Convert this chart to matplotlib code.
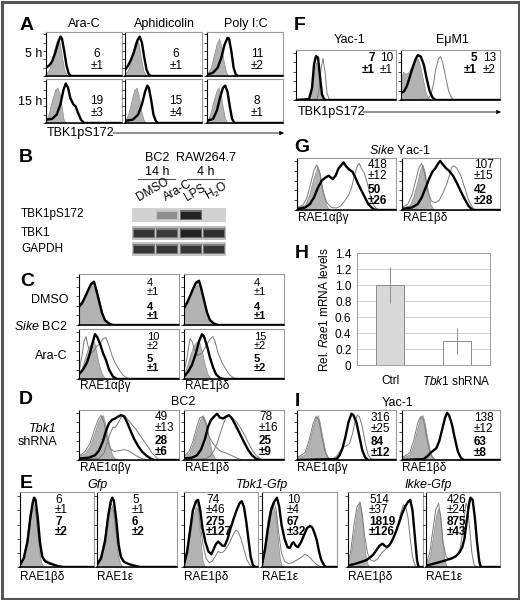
#!/usr/bin/env python3
"""Multi-panel figure: TBK1 activation (flow + blot) and RAE1 induction (flow + qPCR)."""

import matplotlib

matplotlib.use("Agg")
import matplotlib.pyplot as plt
import numpy as np
from matplotlib.patches import Rectangle

plt.rcParams["font.family"] = ["Liberation Sans", "DejaVu Sans"]
plt.rcParams["mathtext.fontset"] = "custom"
plt.rcParams["mathtext.rm"] = "Liberation Sans"
plt.rcParams["mathtext.it"] = "Liberation Sans:italic"
plt.rcParams["mathtext.bf"] = "Liberation Sans:bold"

W, H = 520, 600

# ---- flow histograms: (channel 0-100, % of max) ----
# A: TBK1pS172, rows 5 h / 15 h, cols Ara-C / Aphidicolin / Poly I:C
a5_arac_fill = [(0, 5), (4, 15), (8, 40), (12, 72), (15, 90), (18, 80), (21, 45), (24, 15), (27, 3), (30, 0)]
a5_arac_blk = [(0, 20), (4, 25), (8, 35), (12, 55), (16, 80), (19, 95), (21, 90), (24, 60), (27, 25), (30, 5), (33, 0)]
a5_aph_fill = [(0, 5), (4, 15), (8, 40), (12, 75), (15, 90), (18, 75), (21, 40), (24, 12), (27, 2), (30, 0)]
a5_aph_blk = [(0, 15), (4, 25), (8, 40), (12, 60), (16, 85), (19, 95), (22, 80), (25, 45), (28, 15), (31, 3), (34, 0)]
a5_poly_fill = [(0, 5), (5, 20), (9, 50), (13, 80), (16, 90), (19, 70), (22, 35), (25, 10), (28, 0)]
a5_poly_blk = [(0, 3), (8, 8), (14, 20), (19, 45), (23, 75), (27, 92), (29, 90), (32, 60), (35, 20), (38, 3), (41, 0)]
a15_arac_fill = [(0, 5), (4, 25), (8, 55), (12, 80), (15, 85), (18, 70), (21, 35), (23, 10), (25, 2), (28, 0)]
a15_arac_blk = [(0, 8), (8, 10), (14, 20), (19, 45), (23, 80), (26, 95), (29, 85), (32, 60), (36, 45), (39, 40), (42, 25), (46, 8), (50, 0)]
a15_aph_fill = [(0, 5), (4, 20), (8, 50), (12, 80), (15, 85), (18, 65), (21, 30), (24, 8), (27, 0)]
a15_aph_blk = [(0, 5), (10, 8), (17, 20), (22, 45), (26, 75), (29, 90), (31, 85), (34, 55), (37, 20), (40, 5), (43, 0)]
a15_poly_fill = [(0, 5), (4, 20), (8, 50), (12, 75), (15, 85), (18, 70), (21, 35), (24, 10), (27, 0)]
a15_poly_blk = [(0, 5), (8, 10), (13, 30), (17, 60), (21, 85), (24, 90), (27, 75), (30, 40), (33, 10), (36, 0)]

# C: Sike BC2, rows DMSO / Ara-C, cols RAE1abg / RAE1bd
c_dmso1_fill = [(0, 40), (3, 45), (6, 55), (9, 70), (12, 80), (15, 85), (18, 70), (21, 45), (24, 20), (27, 8), (30, 2), (34, 0)]
c_dmso1_thin = [(0, 42), (3, 48), (6, 58), (9, 72), (12, 82), (15, 88), (18, 72), (21, 45), (24, 20), (27, 8), (31, 2), (35, 0)]
c_dmso1_blk = [(0, 38), (3, 45), (6, 58), (9, 72), (12, 85), (15, 90), (17, 75), (20, 50), (23, 25), (26, 10), (30, 3), (34, 0)]
c_dmso2_fill = [(0, 35), (3, 45), (6, 58), (9, 72), (12, 82), (15, 85), (18, 68), (21, 42), (24, 18), (27, 6), (31, 0)]
c_dmso2_thin = [(0, 38), (3, 48), (6, 60), (9, 75), (12, 85), (15, 88), (18, 70), (21, 44), (24, 20), (27, 8), (32, 0)]
c_dmso2_blk = [(0, 35), (3, 46), (6, 60), (9, 75), (12, 88), (15, 92), (17, 78), (20, 52), (23, 26), (26, 10), (30, 3), (34, 0)]
c_arac1_fill = [(0, 10), (3, 25), (6, 45), (9, 65), (12, 75), (15, 80), (17, 60), (20, 30), (23, 10), (26, 2), (30, 0)]
c_arac1_thin = [(0, 15), (3, 50), (5, 80), (7, 90), (9, 70), (12, 55), (15, 60), (18, 70), (21, 75), (24, 85), (27, 88),
                (30, 70), (33, 50), (36, 35), (40, 20), (44, 8), (48, 2), (52, 0)]
c_arac1_blk = [(0, 10), (4, 20), (8, 35), (11, 55), (14, 80), (16, 95), (18, 90), (21, 75), (24, 55), (27, 40), (30, 20), (34, 5), (38, 0)]
c_arac2_fill = [(0, 10), (3, 28), (6, 50), (9, 68), (12, 78), (15, 80), (18, 58), (21, 28), (24, 8), (27, 2), (30, 0)]
c_arac2_thin = [(0, 15), (3, 45), (6, 85), (8, 80), (11, 60), (14, 50), (18, 55), (22, 70), (26, 85), (29, 90), (31, 80),
                (34, 55), (38, 35), (42, 20), (46, 8), (50, 2), (54, 0)]
c_arac2_blk = [(0, 5), (4, 15), (8, 30), (12, 55), (15, 80), (18, 95), (20, 90), (23, 70), (26, 45), (29, 25), (32, 10), (36, 2), (40, 0)]

# D: BC2 Tbk1 shRNA
d1_fill = [(0, 8), (6, 15), (11, 30), (15, 55), (19, 80), (22, 92), (24, 95), (27, 70), (30, 35), (33, 12), (36, 3), (40, 0)]
d1_iso = [(0, 8), (6, 18), (11, 35), (15, 62), (19, 85), (22, 95), (25, 80), (28, 45), (31, 25), (35, 18), (40, 20), (45, 22),
          (49, 20), (53, 15), (58, 8), (63, 3), (68, 0)]
d1_thin = [(0, 0), (20, 4), (25, 15), (28, 35), (31, 55), (34, 70), (36, 68), (39, 78), (42, 90), (44, 95), (46, 93), (49, 85),
           (53, 75), (57, 65), (61, 52), (65, 40), (69, 28), (73, 15), (77, 6), (80, 0)]
d1_blk = [(0, 3), (10, 5), (16, 10), (20, 20), (24, 40), (27, 62), (30, 78), (33, 85), (36, 88), (39, 92), (42, 95), (45, 93),
          (48, 80), (51, 65), (55, 45), (59, 30), (63, 18), (67, 10), (71, 4), (75, 0)]
d2_fill = [(0, 8), (5, 15), (9, 35), (13, 65), (16, 85), (19, 95), (22, 80), (25, 45), (28, 15), (31, 3), (34, 0)]
d2_iso = [(0, 8), (5, 18), (9, 40), (13, 72), (16, 90), (19, 92), (22, 75), (25, 50), (29, 35), (33, 25), (37, 18), (42, 15),
          (47, 10), (52, 5), (58, 0)]
d2_thin = [(0, 0), (22, 3), (26, 8), (30, 20), (33, 35), (36, 55), (39, 75), (42, 90), (44, 95), (46, 92), (49, 88), (52, 82),
           (56, 70), (60, 55), (64, 38), (68, 22), (72, 10), (76, 3), (80, 0)]
d2_blk = [(0, 3), (8, 5), (13, 10), (17, 22), (21, 45), (24, 70), (27, 85), (30, 92), (33, 98), (36, 90), (39, 88), (42, 92),
          (45, 95), (48, 88), (52, 72), (56, 55), (60, 38), (64, 22), (68, 10), (72, 3), (76, 0)]

# E: Gfp / Tbk1-Gfp / Ikke-Gfp transduced cells
e1_fill = [(0, 5), (5, 15), (10, 40), (14, 70), (17, 85), (20, 80), (23, 55), (26, 20), (29, 5), (32, 0)]
e1_thin = [(0, 5), (5, 15), (10, 40), (14, 75), (18, 90), (21, 80), (24, 50), (28, 20), (32, 10), (38, 8), (44, 5), (50, 2), (56, 0)]
e1_blk = [(0, 3), (5, 12), (10, 35), (14, 70), (17, 90), (19, 98), (21, 95), (24, 70), (27, 35), (30, 15), (34, 8), (40, 5),
          (46, 3), (52, 1), (60, 0)]
e2_fill = [(0, 5), (5, 15), (10, 42), (14, 72), (17, 85), (20, 78), (23, 50), (26, 18), (29, 5), (32, 0)]
e2_thin = [(0, 5), (5, 16), (10, 42), (14, 76), (18, 90), (21, 78), (24, 48), (28, 18), (32, 8), (38, 5), (44, 3), (50, 0)]
e2_blk = [(0, 3), (5, 12), (10, 36), (14, 72), (17, 92), (19, 98), (21, 94), (24, 68), (27, 32), (30, 14), (34, 7), (40, 4),
          (46, 2), (54, 0)]
e3_fill = [(0, 5), (4, 20), (8, 45), (12, 70), (16, 85), (19, 80), (22, 40), (25, 10), (28, 0)]
e3_thin = [(0, 5), (4, 25), (8, 55), (12, 80), (16, 95), (19, 85), (22, 60), (26, 30), (30, 12), (34, 6), (38, 8), (42, 15),
           (46, 22), (50, 20), (54, 22), (58, 28), (62, 35), (66, 45), (70, 52), (73, 50), (77, 40), (81, 25), (85, 10),
           (89, 3), (92, 0)]
e3_blk = [(0, 3), (4, 20), (8, 50), (12, 80), (16, 92), (19, 95), (22, 80), (25, 55), (29, 35), (33, 22), (37, 18), (40, 25),
          (43, 32), (46, 36), (49, 33), (52, 30), (55, 30), (59, 40), (63, 55), (67, 68), (71, 80), (75, 90), (78, 93),
          (81, 85), (84, 65), (87, 40), (90, 15), (93, 3), (96, 0)]
e4_fill = [(0, 5), (4, 25), (8, 55), (12, 80), (15, 85), (18, 75), (21, 40), (24, 10), (27, 0)]
e4_thin = [(0, 5), (4, 30), (8, 65), (12, 85), (16, 92), (19, 80), (22, 50), (26, 20), (30, 8), (35, 5), (40, 6), (45, 9),
           (50, 12), (54, 15), (57, 18), (61, 16), (65, 12), (70, 6), (75, 2), (80, 0)]
e4_blk = [(0, 3), (4, 25), (8, 55), (12, 80), (16, 92), (20, 98), (23, 85), (26, 60), (30, 40), (34, 28), (37, 27), (40, 33),
          (42, 35), (45, 30), (48, 28), (52, 35), (56, 45), (60, 55), (64, 58), (67, 56), (70, 48), (73, 38), (76, 22),
          (79, 10), (83, 2), (86, 0)]
e5_fill = [(0, 5), (4, 20), (8, 50), (12, 80), (15, 90), (18, 75), (21, 40), (24, 12), (27, 2), (30, 0)]
e5_thin = [(0, 5), (4, 25), (8, 60), (12, 85), (16, 92), (19, 75), (22, 45), (26, 20), (30, 10), (35, 8), (40, 12), (45, 20),
           (50, 25), (55, 30), (60, 40), (65, 55), (70, 75), (74, 88), (77, 85), (80, 70), (83, 40), (86, 15), (89, 3), (92, 0)]
e5_blk = [(0, 2), (8, 4), (14, 6), (20, 8), (25, 10), (30, 14), (34, 18), (38, 24), (42, 30), (46, 33), (49, 30), (52, 28),
          (56, 32), (60, 40), (64, 50), (68, 62), (72, 75), (76, 85), (80, 92), (83, 95), (86, 80), (89, 45), (92, 10), (94, 0)]
e6_fill = [(0, 3), (5, 15), (9, 40), (13, 70), (16, 82), (19, 75), (22, 40), (25, 10), (28, 0)]
e6_thin = [(0, 3), (5, 20), (9, 50), (13, 80), (17, 90), (20, 70), (23, 35), (27, 15), (32, 10), (37, 12), (42, 18), (46, 25),
           (49, 45), (52, 75), (54, 90), (56, 85), (59, 55), (62, 20), (65, 3), (68, 0)]
e6_blk = [(0, 2), (8, 4), (15, 6), (22, 8), (28, 10), (34, 12), (40, 15), (45, 20), (49, 28), (52, 40), (55, 65), (58, 88),
          (60, 98), (63, 95), (66, 70), (69, 35), (72, 8), (74, 0)]

# F: TBK1pS172 in tumour lines
f1_fill = [(0, 0), (12, 2), (15, 15), (18, 60), (20, 80), (22, 55), (24, 15), (26, 2), (28, 0)]
f1_blk = [(0, 0), (13, 2), (16, 25), (18, 75), (20, 93), (22, 90), (24, 50), (26, 12), (28, 2), (30, 0)]
f1_thin = [(0, 0), (21, 2), (23, 20), (25, 65), (27, 88), (29, 60), (31, 15), (33, 2), (35, 0)]
f2_fill = [(0, 40), (2, 60), (5, 55), (8, 60), (11, 75), (14, 85), (17, 88), (19, 75), (22, 45), (25, 15), (28, 3), (31, 0)]
f2_blk = [(0, 15), (3, 18), (6, 30), (9, 50), (12, 70), (15, 88), (17, 95), (20, 92), (23, 75), (26, 45), (29, 18), (32, 5), (35, 0)]
f2_thin = [(0, 0), (27, 2), (30, 10), (33, 35), (35, 65), (38, 88), (40, 92), (42, 80), (45, 50), (48, 20), (51, 5), (54, 0)]

# G: Sike Yac-1
g1_fill = [(0, 5), (8, 10), (12, 30), (16, 60), (19, 80), (21, 88), (23, 75), (26, 40), (29, 12), (32, 2), (35, 0)]
g1_thin = [(0, 5), (6, 10), (10, 25), (14, 55), (17, 80), (20, 92), (23, 75), (26, 40), (30, 15), (35, 5), (40, 4), (44, 8),
           (48, 18), (52, 30), (55, 45), (58, 70), (61, 90), (63, 95), (65, 85), (68, 75), (71, 55), (74, 30), (77, 12),
           (80, 3), (83, 0)]
g1_blk = [(0, 2), (8, 5), (13, 12), (17, 25), (21, 45), (25, 60), (28, 65), (32, 70), (36, 63), (39, 70), (42, 85), (45, 92),
          (47, 97), (50, 88), (53, 82), (56, 78), (59, 66), (62, 52), (65, 40), (68, 28), (72, 12), (76, 4), (79, 0)]
g2_fill = [(0, 5), (8, 10), (12, 30), (16, 60), (19, 85), (21, 92), (23, 80), (26, 45), (29, 12), (32, 2), (35, 0)]
g2_thin = [(0, 5), (6, 12), (10, 30), (14, 60), (17, 85), (20, 95), (23, 75), (26, 40), (30, 18), (34, 15), (38, 20), (42, 35),
           (46, 55), (49, 75), (51, 88), (53, 90), (56, 85), (60, 70), (64, 45), (68, 20), (72, 5), (75, 0)]
g2_blk = [(0, 2), (10, 5), (16, 12), (20, 25), (24, 45), (28, 65), (31, 78), (34, 85), (37, 95), (39, 100), (42, 92), (45, 85),
          (48, 80), (52, 70), (56, 55), (60, 38), (64, 22), (68, 8), (72, 0)]

# I: Yac-1 Tbk1 shRNA
i1_fill = [(0, 5), (8, 12), (12, 35), (16, 70), (19, 90), (21, 95), (23, 80), (26, 45), (29, 15), (32, 3), (35, 0)]
i1_iso = [(0, 5), (8, 15), (12, 40), (16, 75), (19, 92), (22, 85), (25, 50), (28, 20), (31, 5), (35, 0)]
i1_thin = [(0, 0), (36, 2), (40, 8), (44, 20), (47, 28), (50, 30), (53, 35), (56, 55), (59, 85), (61, 95), (63, 92), (66, 70),
           (69, 35), (72, 10), (75, 2), (78, 0)]
i1_blk = [(0, 0), (40, 2), (43, 10), (46, 25), (49, 50), (52, 80), (55, 98), (57, 95), (60, 80), (63, 50), (66, 20), (69, 5), (72, 0)]
i2_fill = [(0, 5), (8, 12), (12, 35), (16, 70), (19, 92), (21, 95), (23, 80), (26, 45), (29, 15), (32, 3), (35, 0)]
i2_iso = [(0, 5), (8, 15), (12, 42), (16, 78), (19, 92), (22, 85), (25, 50), (28, 20), (31, 5), (35, 0)]
i2_blk = [(0, 0), (22, 2), (26, 8), (29, 15), (32, 20), (35, 25), (38, 40), (41, 65), (44, 90), (46, 100), (48, 95), (51, 75),
          (54, 45), (57, 18), (60, 5), (63, 0)]

# ---- numbers printed in the histograms (MFI, +-SD) ----
a_mfi = [6, 6, 11, 19, 15, 8]
a_sd = [1, 1, 2, 3, 4, 1]
c_mfi_thin = [4, 4, 10, 15]
c_sd_thin = [1, 1, 2, 2]
c_mfi_blk = [4, 4, 5, 5]
c_sd_blk = [1, 1, 1, 2]
d_mfi_thin = [49, 78]
d_sd_thin = [13, 16]
d_mfi_blk = [28, 25]
d_sd_blk = [6, 9]
e_mfi_thin = [6, 5, 74, 10, 514, 426]
e_sd_thin = [1, 1, 46, 4, 37, 24]
e_mfi_blk = [7, 6, 275, 67, 1819, 875]
e_sd_blk = [2, 2, 127, 32, 126, 43]
f_mfi_blk = [7, 5]
f_sd_blk = [1, 1]
f_mfi_thin = [10, 13]
f_sd_thin = [1, 2]
g_mfi_thin = [418, 107]
g_sd_thin = [12, 15]
g_mfi_blk = [50, 42]
g_sd_blk = [26, 28]
i_mfi_thin = [316, 138]
i_sd_thin = [25, 12]
i_mfi_blk = [84, 63]
i_sd_blk = [12, 8]

# ---- B: western blot band intensities (0 = none, 1 = saturated) ----
blot_lanes = ["DMSO", "Ara-C", "LPS", "H$_2$O"]
blot_rows = ["TBK1pS172", "TBK1", "GAPDH"]
band_ps172 = [0.0, 0.35, 0.95, 0.0]
band_tbk1 = [0.85, 0.82, 0.95, 0.88]
band_gapdh = [0.85, 0.85, 0.85, 0.85]

# ---- H: qPCR ----
h_groups = ["Ctrl", "$\\mathit{Tbk1}$ shRNA"]
h_means = [1.0, 0.30]
h_err = [0.23, 0.165]

FILL = "#b3b3b3"
THIN = "#7a7a7a"
NUM = 8.5


def px_axes(fig, x0, y0, x1, y1):
    return fig.add_axes([x0 / W, 1 - y1 / H, (x1 - x0) / W, (y1 - y0) / H])


def trace(pts):
    a = np.array(pts, dtype=float)
    if a[-1, 0] < 100:
        a = np.vstack([a, [100, 0]])
    return a[:, 0], a[:, 1]


def histo(fig, box, fill=None, thin=(), thick=None):
    ax = px_axes(fig, *box)
    if fill is not None:
        x, y = trace(fill)
        ax.fill_between(x, y, color=FILL, edgecolor="#8c8c8c", lw=0.5)
    for c in thin:
        x, y = trace(c)
        ax.plot(x, y, color=THIN, lw=0.7)
    if thick is not None:
        x, y = trace(thick)
        ax.plot(x, y, color="black", lw=1.7, solid_joinstyle="round")
    ax.set_xlim(0, 100)
    ax.set_ylim(0, 106)
    ax.set_xticks([])
    ax.set_yticks([0, 20, 40, 60, 80, 100])
    ax.tick_params(axis="y", length=2, width=0.5, direction="out", labelleft=False)
    for s in ("top", "right"):
        ax.spines[s].set_color("#9a9a9a")
        ax.spines[s].set_linewidth(0.8)
    ax.spines["left"].set_linewidth(0.8)
    ax.spines["bottom"].set_linewidth(1.1)
    return ax


fig = plt.figure(figsize=(W / 100, H / 100), dpi=100)

# A
a_cols = [(46, 122), (125, 202), (207, 283)]
a_rows = [(32, 76), (79, 123)]
a_sets = [
    [(a5_arac_fill, a5_arac_blk), (a5_aph_fill, a5_aph_blk), (a5_poly_fill, a5_poly_blk)],
    [(a15_arac_fill, a15_arac_blk), (a15_aph_fill, a15_aph_blk), (a15_poly_fill, a15_poly_blk)],
]
for r, (y0, y1) in enumerate(a_rows):
    for c, (x0, x1) in enumerate(a_cols):
        f, b = a_sets[r][c]
        histo(fig, (x0, y0, x1, y1), fill=f, thick=b)

# C
c_cols = [(79, 179), (184, 284)]
c_rows = [(274, 325), (329, 379)]
c_sets = [
    [(c_dmso1_fill, c_dmso1_thin, c_dmso1_blk), (c_dmso2_fill, c_dmso2_thin, c_dmso2_blk)],
    [(c_arac1_fill, c_arac1_thin, c_arac1_blk), (c_arac2_fill, c_arac2_thin, c_arac2_blk)],
]
for r, (y0, y1) in enumerate(c_rows):
    for c, (x0, x1) in enumerate(c_cols):
        f, t, b = c_sets[r][c]
        histo(fig, (x0, y0, x1, y1), fill=f, thin=[t], thick=b)

# D
histo(fig, (79, 410, 179, 460), fill=d1_fill, thin=[d1_iso, d1_thin], thick=d1_blk)
histo(fig, (184, 410, 284, 460), fill=d2_fill, thin=[d2_iso, d2_thin], thick=d2_blk)

# E
e_cols = [(20, 94), (97, 177), (184, 258), (262, 337), (348, 423), (426, 500)]
e_sets = [(e1_fill, e1_thin, e1_blk), (e2_fill, e2_thin, e2_blk), (e3_fill, e3_thin, e3_blk),
          (e4_fill, e4_thin, e4_blk), (e5_fill, e5_thin, e5_blk), (e6_fill, e6_thin, e6_blk)]
for (x0, x1), (f, t, b) in zip(e_cols, e_sets):
    histo(fig, (x0, 492, x1, 567), fill=f, thin=[t], thick=b)

# F, G, I
histo(fig, (296, 50, 396, 100), fill=f1_fill, thin=[f1_thin], thick=f1_blk)
histo(fig, (401, 50, 500, 100), fill=f2_fill, thin=[f2_thin], thick=f2_blk)
histo(fig, (297, 158, 396, 210), fill=g1_fill, thin=[g1_thin], thick=g1_blk)
histo(fig, (402, 158, 500, 210), fill=g2_fill, thin=[g2_thin], thick=g2_blk)
histo(fig, (297, 410, 396, 460), fill=i1_fill, thin=[i1_iso, i1_thin], thick=i1_blk)
histo(fig, (402, 410, 500, 460), fill=i2_fill, thin=[i2_iso], thick=i2_blk)

# B: blot
axb = px_axes(fig, 132, 207, 226, 257)
axb.set_xlim(0, 4)
axb.set_ylim(50, 0)
axb.axis("off")
strip_y = [(1, 15), (19, 33), (35, 49)]
strip_bg = ["#d2d2d2", "#bdbdbd", "#c4c4c4"]
for (top, bot), bg, bands in zip(strip_y, strip_bg, [band_ps172, band_tbk1, band_gapdh]):
    axb.add_patch(Rectangle((0, top), 4, bot - top, color=bg, lw=0))
    mid = (top + bot) / 2
    for lane, v in enumerate(bands):
        if v <= 0.05:
            continue
        g = 0.8 - 0.7 * v
        axb.bar(lane + 0.5, 10, bottom=mid - 5, width=0.92, color=str(min(g + 0.2, 0.8)), lw=0, alpha=0.8)
        axb.bar(lane + 0.5, 7, bottom=mid - 3.5, width=0.84, color=str(g), lw=0)

# H: qPCR bars
axh = px_axes(fig, 357, 253, 490, 365)
axh.bar([0, 1], h_means, width=0.42, color=["#d9d9d9", "white"], edgecolor="#8c8c8c", lw=0.7, zorder=3)
axh.errorbar([0, 1], h_means, yerr=h_err, fmt="none", ecolor="#8c8c8c", elinewidth=0.7, capsize=0, zorder=4)
axh.set_xlim(-0.5, 1.5)
axh.set_ylim(0, 1.4)
yt = np.round(np.arange(0, 1.41, 0.2), 1)
axh.set_yticks(yt)
axh.set_yticklabels(["0" if v == 0 else f"{v:.1f}" for v in yt])
axh.set_xticks([0, 1])
axh.set_xticklabels(h_groups)
axh.yaxis.grid(True, color="#c8c8c8", lw=0.6)
axh.set_axisbelow(True)
axh.tick_params(length=0, labelsize=8.5, pad=4)
axh.tick_params(axis="x", pad=7, labelsize=8.5)
for s in axh.spines.values():
    s.set_color("#a0a0a0")
    s.set_linewidth(0.7)
axh.set_ylabel("Rel. $\\mathit{Rae1}$ mRNA levels", fontsize=8.5, labelpad=3)

# overlay for all free text
ov = fig.add_axes([0, 0, 1, 1], zorder=20)
ov.set_xlim(0, W)
ov.set_ylim(H, 0)
ov.axis("off")
ov.patch.set_alpha(0)
ov.add_patch(Rectangle((1.5, 1.5), W - 3, H - 3, fill=False, ec="#555555", lw=2.2))


def txt(x, y, s, size=9, ha="center", va="center", **kw):
    ov.text(x, y, s, fontsize=size, ha=ha, va=va, **kw)


def stat(x, y, mfi, sd, bold=False, ha="left", dy=11, size=NUM):
    """Two-line 'value / +-sd' block; y is the centre of the first line, dy the baseline step."""
    em = size * 100 / 72
    ls = (dy / em - 0.21) / 0.73
    txt(x, y + dy / 2, f"{mfi}\n\u00b1{sd}", size=size, ha=ha, multialignment=ha,
        fontweight="bold" if bold else "normal", linespacing=ls)


# panel letters
for letter, x, y in [("A", 27, 25), ("B", 26, 158), ("C", 27, 281), ("D", 26, 400), ("E", 26, 483),
                     ("F", 300, 26), ("G", 302, 148), ("H", 302, 254), ("I", 297, 402)]:
    txt(x, y, letter, size=14, fontweight="bold")

# A texts
for x, s in zip([84, 164, 246], ["Ara-C", "Aphidicolin", "Poly I:C"]):
    txt(x, 24, s)
txt(42, 54, "5 h", ha="right")
txt(42, 102, "15 h", ha="right")
for i, (m, sd) in enumerate(zip(a_mfi, a_sd)):
    x = [97, 176, 257][i % 3]
    y = [54, 101][i // 3]
    stat(x, y, m, sd, ha="center", dy=12)
txt(47, 133, "TBK1pS172", ha="left")
ov.annotate("", xy=(284, 133), xytext=(113, 133),
            arrowprops=dict(arrowstyle="-|>", lw=0.6, color="black", mutation_scale=6, shrinkA=0, shrinkB=0))

# B texts
txt(157, 158, "BC2")
txt(157, 172, "14 h")
txt(206, 158, "RAW264.7")
txt(206, 172, "4 h")
ov.plot([138, 175], [179, 179], color="#555555", lw=0.8)
ov.plot([187, 224], [179, 179], color="#555555", lw=0.8)
for x, s in zip([141, 167, 189, 210], blot_lanes):
    txt(x, 204, s, size=8.5, ha="left", va="bottom", rotation=30, rotation_mode="anchor")
for y, s in zip([214, 233, 249], blot_rows):
    txt(21, y, s, size=8.5, ha="left")

# C texts
txt(68, 300, "DMSO", ha="right")
txt(68, 327, "$\\mathit{Sike}$ BC2", ha="right")
txt(68, 356, "Ara-C", ha="right")
for i in range(4):
    x = [147, 254][i % 2]
    y = [283, 337][i // 2]
    gap = [24, 22][i // 2]
    stat(x, y, c_mfi_thin[i], c_sd_thin[i], dy=9, size=8)
    stat(x, y + gap, c_mfi_blk[i], c_sd_blk[i], bold=True, dy=9, size=8)
txt(80, 386, "RAE1\u03b1\u03b2\u03b3", size=8.5, ha="left")
txt(185, 386, "RAE1\u03b2\u03b4", size=8.5, ha="left")

# D texts
txt(183, 402, "BC2")
txt(57, 429, "Tbk1", ha="right", style="italic")
txt(57, 442, "shRNA", ha="right")
for i, x in enumerate([155, 259]):
    stat(x, 417, d_mfi_thin[i], d_sd_thin[i], dy=10.5)
    stat(x, 441, d_mfi_blk[i], d_sd_blk[i], bold=True, dy=10.5)
txt(80, 468, "RAE1\u03b1\u03b2\u03b3", size=8.5, ha="left")
txt(185, 468, "RAE1\u03b2\u03b4", size=8.5, ha="left")

# E texts
txt(97, 485, "Gfp", style="italic")
txt(262, 485, "Tbk1-Gfp", style="italic")
txt(428, 485, "Ikke-Gfp", style="italic")
for i, x in enumerate([55, 132, 206, 287, 369, 447]):
    stat(x, 500, e_mfi_thin[i], e_sd_thin[i], dy=10)
    stat(x, 522, e_mfi_blk[i], e_sd_blk[i], bold=True, dy=10)
for (x0, _), s in zip(e_cols, ["RAE1\u03b2\u03b4", "RAE1\u03b5"] * 3):
    txt(x0, 577, s, size=8.5, ha="left")

# F texts
txt(350, 40, "Yac-1")
txt(452, 40, "E\u03bcM1")
for i, (xb, xt) in enumerate([(375, 393), (477, 496)]):
    stat(xb, 58, f_mfi_blk[i], f_sd_blk[i], bold=True, ha="right", dy=12)
    stat(xt, 58, f_mfi_thin[i], f_sd_thin[i], ha="right", dy=12)
txt(298, 112, "TBK1pS172", ha="left")
ov.annotate("", xy=(501, 112), xytext=(363, 112),
            arrowprops=dict(arrowstyle="-|>", lw=0.6, color="black", mutation_scale=6, shrinkA=0, shrinkB=0))

# G texts
txt(400, 150, "$\\mathit{Sike}$ Yac-1")
for i, x in enumerate([368, 474]):
    stat(x, 165, g_mfi_thin[i], g_sd_thin[i], dy=10.5)
    stat(x, 190, g_mfi_blk[i], g_sd_blk[i], bold=True, dy=10.5)
txt(298, 218, "RAE1\u03b1\u03b2\u03b3", size=8.5, ha="left")
txt(403, 218, "RAE1\u03b2\u03b4", size=8.5, ha="left")

# I texts
txt(398, 403, "Yac-1")
for i, x in enumerate([371, 474]):
    stat(x, 418, i_mfi_thin[i], i_sd_thin[i], dy=10.5)
    stat(x, 442, i_mfi_blk[i], i_sd_blk[i], bold=True, dy=10.5)
txt(297, 468, "RAE1\u03b1\u03b2\u03b3", size=8.5, ha="left")
txt(402, 468, "RAE1\u03b2\u03b4", size=8.5, ha="left")

fig.savefig("out.png", dpi=100)
